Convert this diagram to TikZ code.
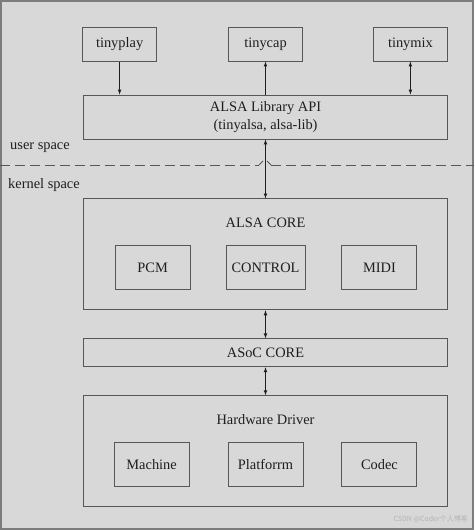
\documentclass[tikz,border=0pt]{standalone}
\usepackage{fontspec}
\setmainfont{Liberation Serif}
\newfontfamily\cjkmark{Noto Sans CJK SC}
\usetikzlibrary{arrows,positioning}
\definecolor{paper}{HTML}{D8D8D8}
\definecolor{frame}{HTML}{7C7C7C}
\definecolor{ink}{HTML}{575757}
\definecolor{txt}{HTML}{1E1E1E}
\definecolor{mark}{HTML}{B4B4B4}

\begin{document}
\begin{tikzpicture}[>=latex,
    every node/.style={text=txt, font=\fontsize{14.4}{18}\selectfont, inner sep=0pt},
    app/.style={draw=ink, line width=0.9pt, minimum width=74pt, minimum height=34pt},
    layer/.style={draw=ink, line width=0.9pt, minimum width=364pt, align=center},
    unit/.style={draw=ink, line width=0.9pt, minimum width=75pt, minimum height=44pt},
    link/.style={draw=txt, line width=0.7pt}]
  \fill[paper] (0,0) rectangle (474pt,-530pt);
  \draw[frame, line width=2pt] (1pt,-1pt) rectangle (473pt,-529pt);
  \useasboundingbox (0,0) rectangle (474pt,-530pt);

  % layers
  \node[layer, minimum height=44pt] (api) at (265.5pt,-117pt) {ALSA Library API\\(tinyalsa, alsa-lib)};
  \node[layer, minimum height=111pt, below=59pt of api] (core) {};
  \node[layer, minimum height=28pt, below=28pt of core] (asoc) {ASoC CORE};
  \node[layer, minimum height=111pt, below=28pt of asoc] (hw) {};

  % applications
  \node[app, above=33pt of api] (tinycap) {tinycap};
  \node[app, left=71pt of tinycap] (tinyplay) {tinyplay};
  \node[app, right=70pt of tinycap] (tinymix) {tinymix};

  % ALSA core parts
  \node (coretitle) at ([yshift=-24pt]core.north) {ALSA CORE};
  \node[unit, minimum width=79pt] (control) at ([yshift=-69pt]core.north) {CONTROL};
  \node[unit, left=35pt of control] (pcm) {PCM};
  \node[unit, right=36pt of control] (midi) {MIDI};

  % hardware driver parts
  \node (hwtitle) at ([yshift=-24pt]hw.north) {Hardware Driver};
  \node[unit] (platform) at ([yshift=-69pt]hw.north) {Platforrm};
  \node[unit, left=38pt of platform] (machine) {Machine};
  \node[unit, right=38pt of platform] (codec) {Codec};

  % space labels and separator
  \node[anchor=west] (user) at (10pt,-148pt) {user space};
  \node[anchor=west] (kernel) at (8pt,-185pt) {kernel space};
  \coordinate (sepL) at (0,-165pt);
  \coordinate (sepR) at (474pt,-165pt);
  \coordinate (hopL) at (259pt,-165pt);
  \coordinate (hopR) at (271pt,-165pt);
  \draw[ink, line width=0.9pt, dash pattern=on 10pt off 5pt] (sepL) -- (hopL);
  \draw[ink, line width=0.9pt, dash pattern=on 10pt off 5pt] (hopR) -- (sepR);
  \draw[ink, line width=0.9pt] (hopL) -- ++(4pt,4pt) (hopR) -- ++(-4pt,4pt);

  % connectors
  \draw[link, ->] (tinyplay.south) -- (tinyplay.south |- api.north);
  \draw[link, <-] (tinycap.south) -- (tinycap.south |- api.north);
  \draw[link, <->] (tinymix.south) -- (tinymix.south |- api.north);
  \draw[link, <->] (api) -- (core);
  \draw[link, <->] (core) -- (asoc);
  \draw[link, <->] (asoc) -- (hw);

  \node[anchor=east, text=mark, font=\cjkmark\fontsize{7}{8}\selectfont] (csdn) at (468pt,-519pt) {CSDN @Coder个人博客};
\end{tikzpicture}
\end{document}
